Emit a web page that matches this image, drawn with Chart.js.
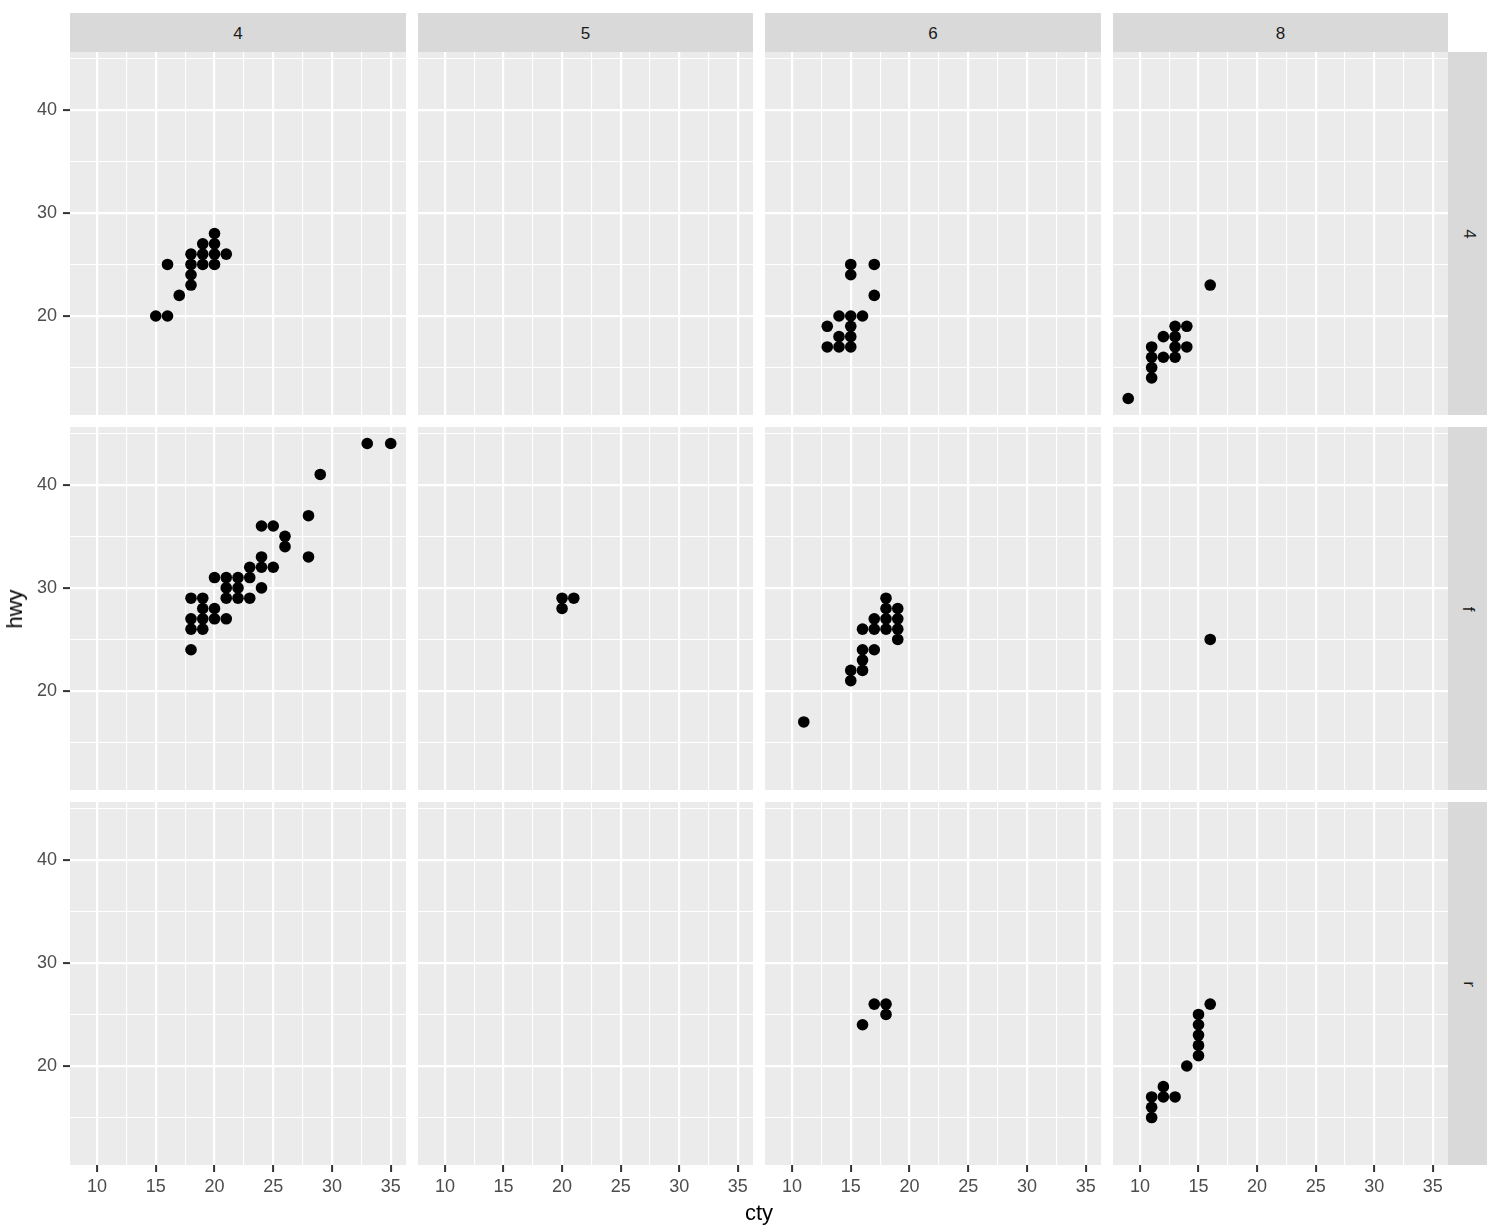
<!DOCTYPE html>
<html><head><meta charset="utf-8">
<script src="https://cdn.jsdelivr.net/npm/chart.js@4.4.1/dist/chart.umd.min.js"></script>
<style>
html,body{margin:0;padding:0;background:#fff;}
body{width:1500px;height:1232px;position:relative;overflow:hidden;font-family:"Liberation Sans",Arial,sans-serif;}
.box{position:absolute;}
.strip{position:absolute;background:#D9D9D9;color:#1A1A1A;font-size:17px;display:flex;align-items:center;justify-content:center;box-sizing:border-box;}
.tstrip{padding-top:3px;}
.rstrip{padding-left:2px;}
.rot{display:inline-block;transform:rotate(90deg);}
.atitle{position:absolute;color:#000;font-size:22px;white-space:nowrap;}
</style></head><body>
<script>
// facet levels
const cylLevels = ['4', '5', '6', '8'];
const drvLevels = ['4', 'f', 'r'];
// tick breaks
const xMajor = [10, 15, 20, 25, 30, 35];
const xMinor = [12.5, 17.5, 22.5, 27.5, 32.5];
const yMajor = [20, 30, 40];
const yMinor = [15, 25, 35, 45];
const xRange = [7.7, 36.3];
const yRange = [10.4, 45.6];

// data per panel (drv_cyl)
const cty_4_4 = [15,16,16,17,18,18,18,18,19,19,19,20,20,20,20,21];
const hwy_4_4 = [20,20,25,22,23,24,25,26,25,26,27,25,26,27,28,26];
const cty_4_5 = [];
const hwy_4_5 = [];
const cty_4_6 = [15,17,15,17,14,15,16,13,15,14,15,13,14,15];
const hwy_4_6 = [25,25,24,22,20,20,20,19,19,18,18,17,17,17];
const cty_4_8 = [16,13,14,12,13,11,13,14,11,12,13,11,11,9];
const hwy_4_8 = [23,19,19,18,18,17,17,17,16,16,16,15,14,12];
const cty_f_4 = [28,24,25,26,26,24,28,23,24,25,20,21,22,23,21,22,24,18,19,21,22,23,19,20,18,19,20,21,18,19,18,29,33,35];
const hwy_f_4 = [37,36,36,35,34,33,33,32,32,32,31,31,31,31,30,30,30,29,29,29,29,29,28,28,27,27,27,27,26,26,24,41,44,44];
const cty_f_5 = [20,20,21];
const hwy_f_5 = [28,29,29];
const cty_f_6 = [18,18,19,17,18,19,16,17,18,19,19,16,17,16,15,16,15,11];
const hwy_f_6 = [29,28,28,27,27,27,26,26,26,26,25,24,24,23,22,22,21,17];
const cty_f_8 = [16];
const hwy_f_8 = [25];
const cty_r_4 = [];
const hwy_r_4 = [];
const cty_r_5 = [];
const hwy_r_5 = [];
const cty_r_6 = [16,17,18,18];
const hwy_r_6 = [24,26,26,25];
const cty_r_8 = [16,15,15,15,15,15,14,12,11,12,13,11,11];
const hwy_r_8 = [26,25,24,23,22,21,20,18,17,17,17,16,15];

const panelData = {
  '4': {'4':[cty_4_4,hwy_4_4],'5':[cty_4_5,hwy_4_5],'6':[cty_4_6,hwy_4_6],'8':[cty_4_8,hwy_4_8]},
  'f': {'4':[cty_f_4,hwy_f_4],'5':[cty_f_5,hwy_f_5],'6':[cty_f_6,hwy_f_6],'8':[cty_f_8,hwy_f_8]},
  'r': {'4':[cty_r_4,hwy_r_4],'5':[cty_r_5,hwy_r_5],'6':[cty_r_6,hwy_r_6],'8':[cty_r_8,hwy_r_8]}
};

// layout
const L0 = 70, T0 = 52, PW = 335.5, GX = 12, PH = 362.67, GY = 12.5;
const AXW = 70, AXH = 50, STRIP = 39;
const FONT = '"Liberation Sans", Arial, sans-serif';

const bgPlugin = {
  id: 'panelBg',
  beforeDraw(chart) {
    const a = chart.chartArea, c = chart.ctx;
    c.save();
    c.fillStyle = '#EBEBEB';
    c.fillRect(a.left, a.top, a.right - a.left, a.bottom - a.top);
    c.restore();
  }
};

function el(cls, css, html) {
  const d = document.createElement('div');
  d.className = cls;
  Object.assign(d.style, css);
  if (html !== undefined) d.innerHTML = html;
  document.body.appendChild(d);
  return d;
}

const xTicks = [...xMajor, ...xMinor].sort((a, b) => a - b);
const yTicks = [...yMajor, ...yMinor].sort((a, b) => a - b);

drvLevels.forEach((drv, r) => {
  const top = Math.round(T0 + r * (PH + GY));
  const bottom = Math.round(T0 + r * (PH + GY) + PH);
  cylLevels.forEach((cyl, c) => {
    const left = Math.round(L0 + c * (PW + GX));
    const right = Math.round(L0 + c * (PW + GX) + PW);
    const showY = c === 0, showX = r === drvLevels.length - 1;
    const bx = showY ? left - AXW : left;
    const bw = right - bx;
    const bh = bottom - top + (showX ? AXH : 0);
    const box = el('box', {left: bx + 'px', top: top + 'px', width: bw + 'px', height: bh + 'px'});
    const cv = document.createElement('canvas');
    box.appendChild(cv);
    const [xs, ys] = panelData[drv][cyl];
    const pts = xs.map((x, i) => ({x: x, y: ys[i]}));
    new Chart(cv, {
      type: 'scatter',
      data: {datasets: [{data: pts, pointRadius: 5.8, pointHoverRadius: 5.8, pointBackgroundColor: '#000', pointBorderWidth: 0, pointBorderColor: '#000'}]},
      plugins: [bgPlugin],
      options: {
        responsive: true, maintainAspectRatio: false, animation: false,
        events: [],
        layout: {padding: 0, autoPadding: false},
        plugins: {legend: {display: false}, tooltip: {enabled: false}, title: {display: false}},
        scales: {
          x: {
            type: 'linear', min: xRange[0], max: xRange[1],
            afterBuildTicks: s => { s.ticks = xTicks.map(v => ({value: v})); },
            afterFit: s => { s.height = showX ? AXH : 0; s.paddingLeft = 0; s.paddingRight = 0; },
            border: {display: false},
            grid: {
              color: '#FFFFFF',
              lineWidth: ctx => (ctx.tick && xMajor.includes(ctx.tick.value)) ? 2.2 : 1.1,
              drawTicks: showX, tickLength: 7,
              tickColor: ctx => (ctx.tick && xMajor.includes(ctx.tick.value)) ? '#333333' : 'rgba(0,0,0,0)',
              tickWidth: 2
            },
            ticks: {
              display: showX, color: '#4D4D4D', font: {family: FONT, size: 18}, padding: 4,
              autoSkip: false, maxRotation: 0, minRotation: 0,
              callback: v => xMajor.includes(v) ? String(v) : ''
            }
          },
          y: {
            type: 'linear', min: yRange[0], max: yRange[1],
            afterBuildTicks: s => { s.ticks = yTicks.map(v => ({value: v})); },
            afterFit: s => { s.width = showY ? AXW : 0; s.paddingTop = 0; s.paddingBottom = 0; },
            border: {display: false},
            grid: {
              color: '#FFFFFF',
              lineWidth: ctx => (ctx.tick && yMajor.includes(ctx.tick.value)) ? 2.2 : 1.1,
              drawTicks: showY, tickLength: 7,
              tickColor: ctx => (ctx.tick && yMajor.includes(ctx.tick.value)) ? '#333333' : 'rgba(0,0,0,0)',
              tickWidth: 2
            },
            ticks: {
              display: showY, color: '#4D4D4D', font: {family: FONT, size: 18}, padding: 6,
              autoSkip: false,
              callback: v => yMajor.includes(v) ? String(v) : ''
            }
          }
        }
      }
    });
    // top strips
    if (r === 0) {
      el('strip tstrip', {left: left + 'px', top: (top - STRIP) + 'px', width: (right - left) + 'px', height: STRIP + 'px'}, cyl);
    }
    // right strips
    if (c === cylLevels.length - 1) {
      el('strip rstrip', {left: right + 'px', top: top + 'px', width: STRIP + 'px', height: (bottom - top) + 'px'}, '<span class="rot">' + drv + '</span>');
    }
  });
});

// axis titles
const gridLeft = L0, gridRight = Math.round(L0 + 3 * (PW + GX) + PW);
const gridTop = T0, gridBottom = Math.round(T0 + 2 * (PH + GY) + PH);
const xt = el('atitle', {left: gridLeft + 'px', width: (gridRight - gridLeft) + 'px', top: (gridBottom + 35) + 'px', textAlign: 'center'}, 'cty');
const yt = el('atitle', {left: '2px', top: ((gridTop + gridBottom) / 2) + 'px', transformOrigin: '0 0', transform: 'rotate(-90deg) translate(-50%, 0)'}, 'hwy');
</script>
</body></html>
